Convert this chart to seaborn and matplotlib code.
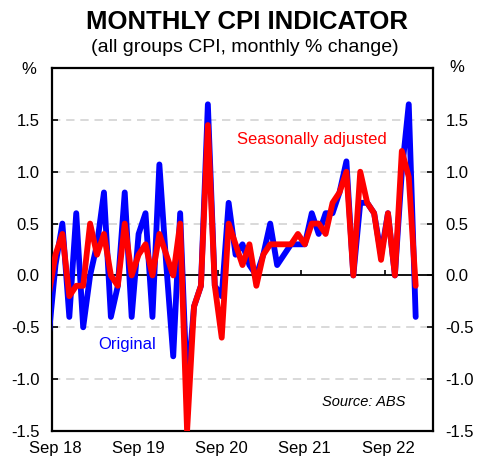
import numpy as np
import pandas as pd
import seaborn as sns
import matplotlib.pyplot as plt

# monthly % change, Aug 2018 to Jan 2023 (first point sits just off the left edge)
months = pd.date_range("2018-08-01", "2023-01-01", freq="MS")

original = [-0.6, 0.1, 0.5, -0.4, 0.6, -0.5, 0.0, 0.3, 0.8, -0.4, -0.1, 0.8,
            -0.4, 0.4, 0.6, -0.4, 1.07, 0.1, -0.78, 0.6, -1.1, -0.3, -0.1, 1.65,
            -0.1, -0.2, 0.7, 0.2, 0.3, 0.1, 0.0, 0.2, 0.5, 0.1, 0.2, 0.3,
            0.3, 0.3, 0.6, 0.4, 0.6, 0.6, 0.8, 1.1, 0.0, 0.7, 0.7, 0.6,
            0.2, 0.6, 0.0, 1.0, 1.65, -0.4]

seasonally_adjusted = [-0.2, 0.2, 0.4, -0.2, -0.1, -0.1, 0.5, 0.2, 0.4, 0.0, -0.1, 0.5,
                       0.0, 0.2, 0.3, 0.0, 0.4, 0.2, 0.0, 0.5, -1.5, -0.3, -0.1, 1.45,
                       -0.1, -0.6, 0.5, 0.3, 0.1, 0.3, -0.1, 0.2, 0.3, 0.3, 0.3, 0.3,
                       0.4, 0.3, 0.5, 0.5, 0.4, 0.7, 0.8, 1.0, 0.0, 1.0, 0.7, 0.6,
                       0.15, 0.6, 0.0, 1.2, 0.95, -0.1]

y_ticks = [-1.5, -1.0, -0.5, 0.0, 0.5, 1.0, 1.5]
grid_levels = [-1.0, -0.5, 0.5, 1.0, 1.5]
colors = {"Original": "#0000FF", "Seasonally adjusted": "#FF0000"}

df = pd.DataFrame({
    "month": np.arange(len(months)),
    "Original": original,
    "Seasonally adjusted": seasonally_adjusted,
})
long_df = df.melt(id_vars="month", var_name="series", value_name="change")

sns.set_style("ticks")
plt.rcParams["font.family"] = ["Liberation Sans", "DejaVu Sans"]
plt.rcParams["axes.unicode_minus"] = False
plt.rcParams["text.color"] = "black"
plt.rcParams["xtick.color"] = "black"
plt.rcParams["ytick.color"] = "black"
plt.rcParams["xtick.labelcolor"] = "black"
plt.rcParams["ytick.labelcolor"] = "black"

fig = plt.figure(figsize=(4.95, 4.73), dpi=100)
ax = fig.add_axes([52 / 495, 1 - 431 / 473, (433 - 52) / 495, (431 - 68) / 473])

for lvl in grid_levels:
    ax.axhline(lvl, color="#D3D3D3", lw=1.2, ls=(0, (5, 3.5)), zorder=0)
ax.axhline(0, color="black", lw=1.3, zorder=1)

sns.lineplot(data=long_df, x="month", y="change", hue="series",
             palette=colors, linewidth=4.2, legend=False, ax=ax, zorder=3)

# x labels at each September, small ticks on the zero line
sep_idx = [i for i, m in enumerate(months) if m.month == 9]
sep_labels = [m.strftime("Sep %y") for m in months if m.month == 9]
ax.set_xticks(sep_idx)
ax.set_xticklabels(sep_labels)
ax.vlines([i - 0.5 for i in sep_idx], 0, 0.05, color="black", lw=1.2, zorder=2)

ax.set_xlim(0.5, len(months) + 1.5)
ax.set_ylim(-1.5, 2.0)
ax.set_yticks(y_ticks)
ax.set_yticklabels([f"{v:.1f}" for v in y_ticks])
ax.set_xlabel("")
ax.set_ylabel("")

ax.tick_params(axis="x", length=0, pad=7, labelsize=12)
ax.tick_params(axis="y", direction="in", left=True, right=True,
               labelleft=True, labelright=True, length=4, width=1.2,
               pad=9, labelsize=12)
for sp in ax.spines.values():
    sp.set_visible(True)
    sp.set_color("black")
    sp.set_linewidth(1.6)

ax.text(38, 1.31, "Seasonally adjusted", color="#FF0000", fontsize=12,
        ha="center", va="center")
ax.text(11.4, -0.67, "Original", color="#0000FF", fontsize=12,
        ha="center", va="center")
ax.text(51.5, -1.22, "Source: ABS", fontsize=10.5, style="italic",
        ha="right", va="center")

fig.text(29 / 495, 1 - 70 / 473, "%", fontsize=12, ha="center", va="center")
fig.text(457 / 495, 1 - 68 / 473, "%", fontsize=12, ha="center", va="center")
fig.text(247 / 495, 1 - 22 / 473, "MONTHLY CPI INDICATOR", fontsize=18.5,
         weight="bold", ha="center", va="center")
fig.text(245 / 495, 1 - 47 / 473, "(all groups CPI, monthly % change)",
         fontsize=14, ha="center", va="center")

fig.savefig("out.png", dpi=100)
